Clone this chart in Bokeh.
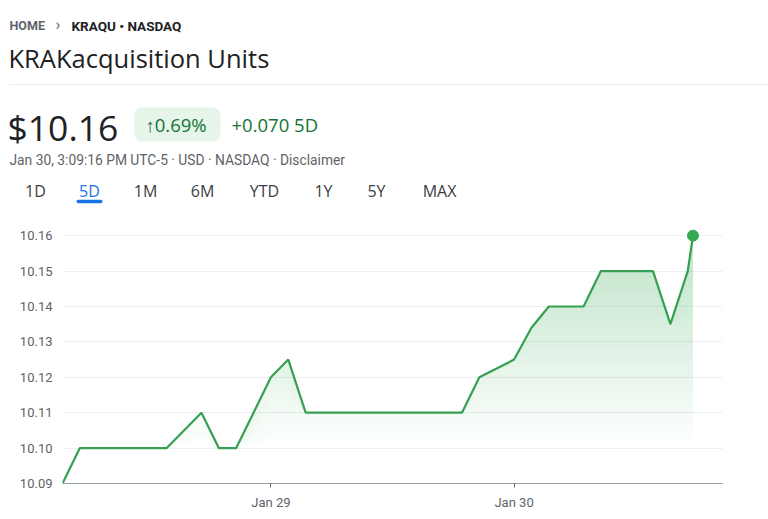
import numpy as np
from bokeh.plotting import figure
from bokeh.models import FixedTicker, Range1d, PrintfTickFormatter
from bokeh.core.properties import value
from bokeh.embed import file_html
from bokeh.resources import INLINE

# ---------------- data ----------------
t_index = [2, 3, 8, 10, 11, 12, 14, 15, 16, 25, 26, 28, 29, 30, 32, 33, 36, 37, 38, 38.3]
price = [10.09, 10.10, 10.10, 10.11, 10.10, 10.10, 10.12, 10.125, 10.11, 10.11,
         10.12, 10.125, 10.134, 10.14, 10.14, 10.15, 10.15, 10.135, 10.15, 10.16]
y_ticks = [10.09, 10.10, 10.11, 10.12, 10.13, 10.14, 10.15, 10.16]
x_tick_pos = [14, 28]
x_tick_labels = ["Jan 29", "Jan 30"]
tabs = ["1D", "5D", "1M", "6M", "YTD", "1Y", "5Y", "MAX"]
active_tab = "5D"
crumb_home = "HOME"
crumb_sep = "›"
crumb_ticker = "KRAQU • NASDAQ"
title_text = "KRAKacquisition Units"
price_text = "$10.16"
pct_text = "↑0.69%"
chg_text = "+0.070 5D"
info_text = "Jan 30, 3:09:16 PM UTC-5 · USD · NASDAQ · Disclaimer"

W = 768
HEAD_H = 215
CHART_H = 304
GREEN = "#34a853"
LINE_GREEN = "#36a052"
DARK_GREEN = "#137333"

# ---------------- header (pixel-space figure) ----------------
h = figure(width=W, height=HEAD_H, x_range=Range1d(0, W), y_range=Range1d(HEAD_H, 0),
           output_backend="svg", toolbar_location=None, min_border=0)
h.axis.visible = False
h.grid.visible = False
h.outline_line_color = None
h.background_fill_color = "white"
h.border_fill_color = "white"

def lab(text, x, y, size, color, font="Roboto", style="normal", align="left"):
    h.text(x=[x], y=[y], text=[text], text_font=value(font), text_font_size=f"{size}px",
           text_color=color, text_font_style=style, text_baseline="middle", text_align=align)

lab(crumb_home, 9, 25, 12.5, "#5f6368", style="bold")
lab(crumb_sep, 55, 24, 16, "#5f6368")
lab(crumb_ticker, 71, 25, 13.5, "#202124", style="bold")
lab(title_text, 8, 57, 25.5, "#202124", font="Open Sans")
h.quad(left=[9], right=[W], top=[83.5], bottom=[84.5], fill_color="#e8eaed", line_color=None)
lab(price_text, 7, 126, 35.5, "#202124", font="Open Sans")
h.rect(x=[177], y=[124], width=[86], height=[34], fill_color="#e6f4ea", line_color=None,
       border_radius=8)
lab(pct_text, 145, 124, 18.5, DARK_GREEN, font="Open Sans")
lab(chg_text, 231, 124, 18.5, DARK_GREEN, font="Open Sans")
lab(info_text, 9, 159, 13.8, "#5f6368")

tab_x = [35, 89, 145, 202, 264, 323, 376, 439]
for name, cx in zip(tabs, tab_x):
    col = "#1a73e8" if name == active_tab else "#3c4043"
    lab(name, cx, 190, 16, col, font="Open Sans", align="center")
    if name == active_tab:
        h.rect(x=[cx], y=[201], width=[26], height=[3.5], fill_color="#1a73e8",
               line_color=None, border_radius=2)

# ---------------- chart ----------------
p = figure(width=W, height=CHART_H, x_range=Range1d(2, 40), y_range=Range1d(10.09, 10.1657),
           output_backend="svg", toolbar_location=None,
           min_border_left=62, min_border_right=46, min_border_top=0, min_border_bottom=36)
p.outline_line_color = None
p.background_fill_color = "white"
p.border_fill_color = "white"

p.yaxis.ticker = FixedTicker(ticks=y_ticks)
p.yaxis.formatter = PrintfTickFormatter(format="%.2f")
p.yaxis.axis_line_color = None
p.yaxis.major_tick_line_color = None
p.yaxis.minor_tick_line_color = None
p.yaxis.major_tick_out = 0
p.yaxis.major_label_standoff = 10
p.yaxis.major_label_text_font = "Roboto"
p.yaxis.major_label_text_font_size = "13px"
p.yaxis.major_label_text_color = "#5f6368"

p.xaxis.ticker = FixedTicker(ticks=x_tick_pos)
p.xaxis.major_label_overrides = {k: v for k, v in zip(x_tick_pos, x_tick_labels)}
p.xaxis.axis_line_color = "#9aa0a6"
p.xaxis.major_tick_line_color = "#5f6368"
p.xaxis.major_tick_out = 4
p.xaxis.major_tick_in = 0
p.xaxis.minor_tick_line_color = None
p.xaxis.major_label_standoff = 7
p.xaxis.major_label_text_font = "Roboto"
p.xaxis.major_label_text_font_size = "13px"
p.xaxis.major_label_text_color = "#5f6368"

p.xgrid.visible = False
p.ygrid.ticker = FixedTicker(ticks=y_ticks)
p.ygrid.grid_line_color = "#eceef0"

pr = np.array(price)
levels = np.linspace(10.10, 10.166, 34)
for a, b in zip(levels[:-1], levels[1:]):
    mid = 0.5 * (a + b)
    alpha = 0.27 * (mid - 10.10) / 0.05
    p.varea(x=t_index, y1=np.minimum(pr, a), y2=np.minimum(pr, b),
            fill_color=GREEN, fill_alpha=float(min(alpha, 0.33)))

p.line(t_index, price, line_color=LINE_GREEN, line_width=2.2)
p.scatter([t_index[-1]], [price[-1]], size=11, color=GREEN)

open("out.html", "w").write(file_html([h, p], INLINE))
